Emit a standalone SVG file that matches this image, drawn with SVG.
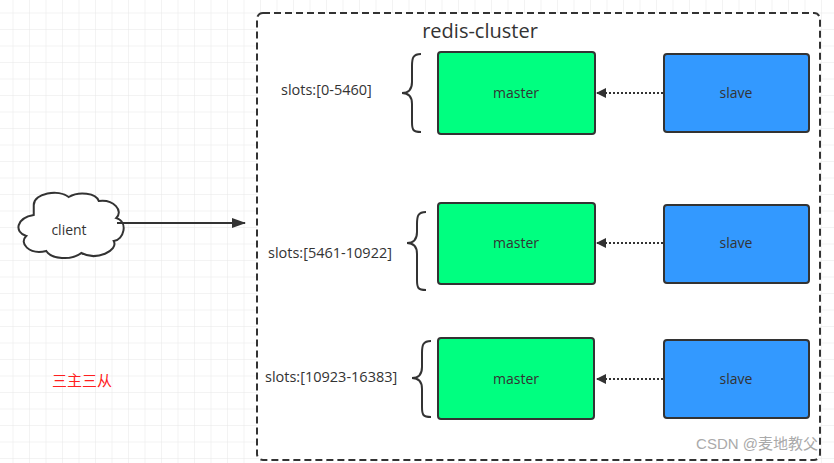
<svg xmlns="http://www.w3.org/2000/svg" width="834" height="463" viewBox="0 0 834 463">
<defs>
<pattern id="grid" width="16.5" height="16.5" patternUnits="userSpaceOnUse" x="-3" y="-3"><path d="M16.5 0V16.5H0" fill="none" stroke="#e8e8e8" stroke-width="1"/></pattern>
<marker id="ah" markerWidth="10" markerHeight="10" refX="9" refY="5" orient="auto" markerUnits="userSpaceOnUse"><path d="M0 0L10 5L0 10z" fill="#333"/></marker>
<marker id="ah2" markerWidth="14" markerHeight="10" refX="13" refY="5" orient="auto" markerUnits="userSpaceOnUse"><path d="M0 0L14 5L0 10z" fill="#333"/></marker>
</defs>
<style>
text{font-family:"Open Sans","Liberation Sans",sans-serif;fill:#333}
.m{fill:#00ff80;stroke:#333;stroke-width:2}
.s{fill:#3399ff;stroke:#333;stroke-width:2}
.br{fill:none;stroke:#333;stroke-width:2}
.l{font-size:14px;text-anchor:middle}
.sl{font-size:14.5px}
</style>
<rect width="834" height="463" fill="#fff"/>
<rect width="834" height="463" fill="url(#grid)"/>
<rect x="257" y="13" width="563" height="447" rx="6" fill="#fff" stroke="#333" stroke-width="2" stroke-dasharray="7 4"/>
<text x="480" y="38" font-size="20" text-anchor="middle">redis-cluster</text>
<g id="client"><g transform="translate(-10,0) scale(1.25,1)"><path d="M35 205c0-12 20-16 28-8c8-6 22-4 24 4c12-2 20 10 14 17c10 4 6 22-2 23c4 10-14 20-26 12c-8 8-24 6-28-2c-14 4-22-8-16-15c-10-4-8-18 6-21z" fill="#fff" stroke="#333" stroke-width="2" vector-effect="non-scaling-stroke"/></g><text x="69" y="235" class="l">client</text></g>
<g id="connectors">
<line x1="117" y1="223" x2="245" y2="223" stroke="#333" stroke-width="2" marker-end="url(#ah2)"/>
<line x1="663" y1="93" x2="597" y2="93" stroke="#333" stroke-width="2" stroke-dasharray="2 2" marker-end="url(#ah)"/>
<line x1="663" y1="243" x2="597" y2="243" stroke="#333" stroke-width="2" stroke-dasharray="2 2" marker-end="url(#ah)"/>
<line x1="663" y1="379" x2="597" y2="379" stroke="#333" stroke-width="2" stroke-dasharray="2 2" marker-end="url(#ah)"/>
</g>
<g id="row1"><path class="br" d="M421 54c-8 0-9 4-9 12v16c0 8-4 11-10 11c6 0 10 3 10 11v18c0 8 1 10 9 10"/><text x="281" y="95" class="sl">slots:[0-5460]</text></g>
<g id="master1"><rect class="m" x="438" y="52" width="157" height="82" rx="3"/><text x="516" y="98" class="l">master</text></g>
<g id="slave1"><rect class="s" x="664" y="54" width="145" height="78" rx="3"/><text x="736" y="98" class="l">slave</text></g>
<g id="row2"><path class="br" d="M426 212c-8 0-9 4-9 12v8c0 8-4 11-10 11c6 0 10 3 10 11v26c0 8 1 10 9 10"/><text x="268" y="258" class="sl">slots:[5461-10922]</text></g>
<g id="master2"><rect class="m" x="438" y="203" width="157" height="81" rx="3"/><text x="516" y="248" class="l">master</text></g>
<g id="slave2"><rect class="s" x="664" y="205" width="145" height="78" rx="3"/><text x="736" y="248" class="l">slave</text></g>
<g id="row3"><path class="br" d="M431 341c-8 0-9 4-9 12v14c0 8-4 11-10 11c6 0 10 3 10 11v18c0 8 1 10 9 10"/><text x="265" y="382" class="sl">slots:[10923-16383]</text></g>
<g id="master3"><rect class="m" x="438" y="338" width="156" height="81" rx="3"/><text x="516" y="384" class="l">master</text></g>
<g id="slave3"><rect class="s" x="664" y="340" width="145" height="78" rx="3"/><text x="736" y="384" class="l">slave</text></g>
<text x="52" y="386" font-size="15" style="fill:#ff2020;font-family:'Noto Sans CJK SC',sans-serif">三主三从</text>
<text x="818" y="449" font-size="15" text-anchor="end" style="fill:#aaa;font-family:'Liberation Sans','Noto Sans CJK SC',sans-serif">CSDN @麦地教父</text>
</svg>
